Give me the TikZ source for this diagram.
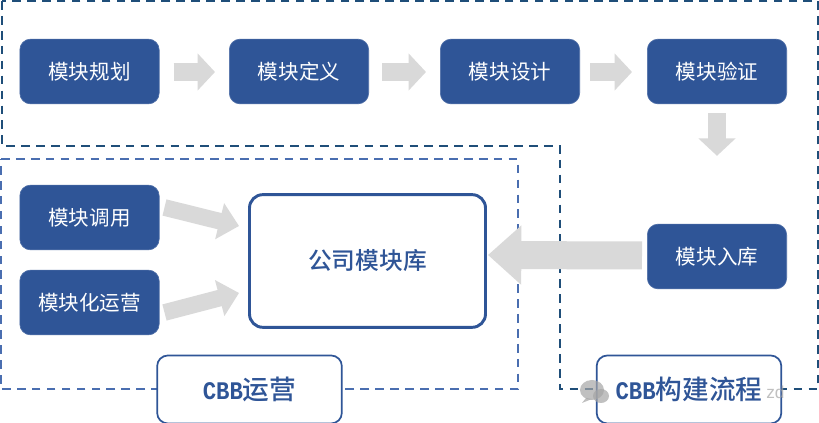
\documentclass[tikz,border=0pt]{standalone}
\usepackage{fontspec}
\setmainfont{Noto Sans CJK SC}
\newfontfamily\wmfont{Liberation Sans}
\newfontfamily\cbbfont[FakeStretch=0.88]{Liberation Mono Bold}
\newfontfamily\medfont{Noto Sans CJK SC Medium}
\usetikzlibrary{arrows.meta,calc}
\definecolor{mblue}{HTML}{2F5597}
\definecolor{dashA}{HTML}{1F4E79}
\definecolor{dashB}{HTML}{4A6EB0}
\definecolor{agray}{HTML}{D9D9D9}
\definecolor{wm}{HTML}{A6A6A6}
\newcommand{\cbb}{{\cbbfont\fontsize{19pt}{21pt}\selectfont CBB}}
\tikzset{
 bluebox/.style={fill=mblue,draw=mblue!85!white,line width=0.5pt,rounded corners=8pt,minimum width=104.5pt,minimum height=48.5pt,text=white,font=\fontsize{15.4pt}{18pt}\selectfont,inner sep=0pt},
 libbox/.style={fill=white,draw=mblue,line width=2.2pt,rounded corners=10pt,minimum width=177pt,minimum height=99.5pt,text=mblue,font=\medfont\fontsize{17.8pt}{20pt}\selectfont,inner sep=0pt},
 tagbox/.style={fill=white,draw=mblue,line width=1.3pt,rounded corners=8pt,minimum width=138.5pt,minimum height=51pt,text=mblue,font=\medfont\fontsize{20pt}{22pt}\selectfont,inner sep=0pt},
 smallarrow/.style={draw=agray,line width=13.5pt,-{Triangle[length=13pt,width=27pt]}},
 bigarrow/.style={draw=agray,line width=21pt,-{Triangle[length=25pt,width=43pt]}},
 slantarrow/.style={draw=agray,line width=12.5pt,-{Triangle[length=15pt,width=27pt]}},
 dashone/.style={draw=dashA,line width=1.8pt,dash pattern=on 6.5pt off 4.7pt},
 dashtwo/.style={draw=dashB,line width=1.8pt,dash pattern=on 6.5pt off 4.7pt},
}
\begin{document}
\begin{tikzpicture}[x=0.75pt,y=-0.75pt]
\useasboundingbox (0,0) rectangle (819,423);
\fill[white] (0,0) rectangle (819,423);
% dashed frames
\coordinate (d1) at (2,1); \coordinate (d2) at (2,146); \coordinate (d3) at (560,146);
\coordinate (d4) at (560,389); \coordinate (d5) at (818,389); \coordinate (d6) at (818,1);
\draw[dashone] (d1) -- (d2) -- (d3) -- (d4) -- (d5) -- (d6) -- cycle;
\coordinate (e1) at (1,159); \coordinate (e2) at (518,159); \coordinate (e3) at (518,389); \coordinate (e4) at (1,389);
\draw[dashtwo] (e1) -- (e2) -- (e3) -- (e4) -- cycle;
% nodes
\node[bluebox] (plan) at (89.5,71.5) {模块规划};
\node[bluebox] (def) at (299,71.5) {模块定义};
\node[bluebox] (des) at (510,71.5) {模块设计};
\node[bluebox] (ver) at (717,71.5) {模块验证};
\node[bluebox] (ent) at (717,256.5) {模块入库};
\node[bluebox] (call) at (89.5,217.5) {模块调用};
\node[bluebox] (ops) at (89.5,302.5) {模块化运营};
\node[libbox] (lib) at (367.5,261) {公司模块库};
\node[tagbox] (tagA) at (249.5,389.5) {\cbb 运营};
\node[tagbox] (tagB) at (689,389.5) {\cbb 构建流程};
% arrows
\draw[smallarrow] ($(plan.east)+(14,0.5)$) -- ($(def.west)+(-14,0.5)$);
\draw[smallarrow] ($(def.east)+(13,0.5)$) -- ($(des.west)+(-14,0.5)$);
\draw[smallarrow] ($(des.east)+(10,0.5)$) -- ($(ver.west)+(-15,0.5)$);
\draw[smallarrow] ($(ver.south)+(0,9)$) -- ($(ent.north)+(0,-68)$);
\draw[bigarrow] ($(ent.west)+(-5,-1)$) -- ($(lib.east)+(1,-6)$);
\draw[slantarrow] ($(call.east)+(5,-10)$) -- ($(lib.west)+(-9,-35)$);
\draw[slantarrow] ($(ops.east)+(5,10)$) -- ($(lib.west)+(-9,32)$);
% watermark
\begin{scope}[wm,opacity=0.7]
\fill (592,390) ellipse (12 and 10);
\fill (586,398) -- (582,403) -- (592,399) -- cycle;
\fill (601,396) ellipse (8 and 7);
\node[font=\wmfont\fontsize{13pt}{15pt}\selectfont,text=wm,inner sep=0pt,anchor=west] (wmtext) at (766,392) {zd};
\end{scope}
\end{tikzpicture}
\end{document}
